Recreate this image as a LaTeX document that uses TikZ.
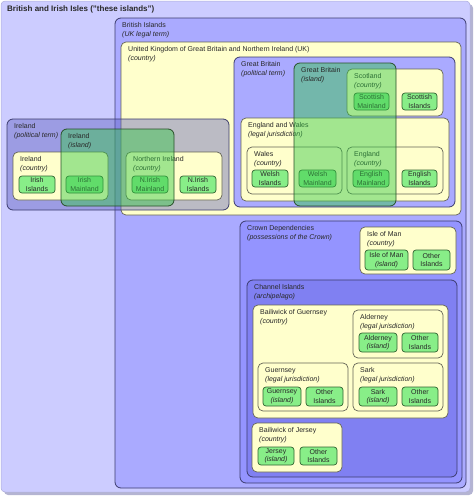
\documentclass[tikz,border=0pt]{standalone}
\usepackage{fontspec}
\setmainfont{Liberation Sans}
\definecolor{lavA}{RGB}{204,204,255}
\definecolor{lavB}{RGB}{170,170,255}
\definecolor{lavC}{RGB}{148,148,255}
\definecolor{lavD}{RGB}{128,128,242}
\definecolor{navy}{RGB}{60,60,110}
\definecolor{yel}{RGB}{255,255,204}
\definecolor{yelB}{RGB}{100,100,85}
\definecolor{grn}{RGB}{136,238,136}
\definecolor{grnB}{RGB}{50,100,50}
\definecolor{txt}{RGB}{40,40,40}
\definecolor{shad}{RGB}{180,180,210}
\definecolor{irl}{RGB}{85,85,185}
\definecolor{isl}{RGB}{50,200,70}
\tikzset{
  bigbox/.style={draw=navy,line width=0.8pt,rounded corners=6pt,inner sep=0pt,outer sep=0pt},
  lav/.style={bigbox,fill=lavB},
  crown/.style={bigbox,fill=lavC},
  chan/.style={bigbox,fill=lavD},
  ybox/.style={draw=yelB,line width=0.7pt,fill=yel,rounded corners=5pt,inner sep=0pt,outer sep=0pt},
  gbox/.style={draw=grnB,line width=0.7pt,fill=grn,rounded corners=3pt,inner sep=0pt,outer sep=0pt,
     align=center,text=txt,font=\fontsize{7}{8.6}\selectfont},
  polbox/.style={draw=navy,line width=0.8pt,fill=irl,fill opacity=0.4,rounded corners=6pt,inner sep=0pt,outer sep=0pt},
  islbox/.style={draw=grnB!80!black,line width=0.8pt,fill=isl,fill opacity=0.45,rounded corners=6pt,inner sep=0pt,outer sep=0pt},
  lbl/.style={anchor=north west,inner sep=0pt,align=left,text=txt,font=\fontsize{7}{9}\selectfont},
}
\newcommand{\rb}[6]{\node[#2,anchor=north west,minimum width={(#5-#3)*1pt},minimum height={(#6-#4)*1pt}] (#1) at (#3,#4) {};}
\newcommand{\gb}[6]{\node[gbox,anchor=center,minimum width={(#4-#2)*1pt},minimum height={(#5-#3)*1pt}] (#1) at ({(#2+#4)/2},{(#3+#5)/2}) {#6};}
\newcommand{\lb}[4]{\node[lbl] (#1) at ([xshift=7pt,yshift=-4pt]#2.north west) {#3\\\textit{#4}};}
\begin{document}
\begin{tikzpicture}[x=1pt,y=-1pt]
\useasboundingbox (0,0) rectangle (474,496);
% outer
\fill[shad,rounded corners=4pt] (4,4) rectangle (473,495);
\rb{outer}{bigbox,draw=lavA!85!black,line width=0.5pt,fill=lavA,rounded corners=4pt}{1}{1}{470}{492}
\node[anchor=west,inner sep=0pt,text=txt,font=\fontsize{8}{10}\selectfont\bfseries] (title) at (7,9) {British and Irish Isles ("these islands")};
% British Islands
\rb{bi}{lav}{115}{18}{466}{488}
\lb{bil}{bi}{British Islands}{(UK legal term)}
% UK
\rb{uk}{ybox}{121}{42}{461}{215}
\lb{ukl}{uk}{United Kingdom of Great Britain and Northern Ireland (UK)}{(country)}
% Ireland political
\rb{irp}{polbox}{7}{119}{229}{210}
\lb{irpl}{irp}{Ireland}{(political term)}
% Ireland country
\rb{irc}{ybox}{13}{152}{108}{200}
\lb{ircl}{irc}{Ireland}{(country)}
\gb{iri}{19}{176}{55}{193}{Irish\\Islands}
\gb{irm}{66}{176}{103}{193}{Irish\\Mainland}
% Northern Ireland
\rb{ni}{ybox}{126}{152}{222}{200}
\lb{nil}{ni}{Northern Ireland}{(country)}
\gb{nim}{132}{176}{168}{193}{N.Irish\\Mainland}
\gb{nii}{180}{176}{216}{193}{N.Irish\\Islands}
% Ireland island
\rb{iris}{islbox}{61}{129}{174}{206}
\lb{irisl}{iris}{Ireland}{(island)}
% Great Britain political
\rb{gbp}{lav}{234}{57}{455}{207}
\lb{gbpl}{gbp}{Great Britain}{(political term)}
% Scotland
\rb{sco}{ybox}{347}{69}{443}{116}
\lb{scol}{sco}{Scotland}{(country)}
\gb{scm}{354}{93}{389}{110}{Scottish\\Mainland}
\gb{sci}{402}{93}{437}{110}{Scottish\\Islands}
% England and Wales
\rb{ew}{ybox}{241}{118}{449}{201}
\lb{ewl}{ew}{England and Wales}{(legal jurisdiction)}
\rb{wal}{ybox}{247}{147}{342}{194}
\lb{wall}{wal}{Wales}{(country)}
\gb{wli}{252}{170}{288}{187}{Welsh\\Islands}
\gb{wlm}{299}{170}{336}{187}{Welsh\\Mainland}
\rb{eng}{ybox}{347}{147}{443}{194}
\lb{engl}{eng}{England}{(country)}
\gb{enm}{353}{170}{389}{187}{English\\Mainland}
\gb{eni}{402}{170}{437}{187}{English\\Islands}
% GB island
\rb{gbi}{islbox}{294}{63}{396}{206}
\lb{gbil}{gbi}{Great Britain}{(island)}
% Crown dependencies
\rb{cd}{crown}{240}{221}{462}{483}
\lb{cdl}{cd}{Crown Dependencies}{(possessions of the Crown)}
\rb{iom}{ybox}{360}{227}{456}{274}
\lb{ioml}{iom}{Isle of Man}{(country)}
\gb{iomi}{365}{250}{408}{270}{Isle of Man\\\textit{(island)}}
\gb{iomo}{413}{250}{450}{270}{Other\\Islands}
% Channel Islands
\rb{ci}{chan}{247}{280}{457}{477}
\lb{cil}{ci}{Channel Islands}{(archipelago)}
\rb{bg}{ybox}{253}{305}{448}{418}
\lb{bgl}{bg}{Bailiwick of Guernsey}{(country)}
\rb{ald}{ybox}{353}{310}{443}{358}
\lb{aldl}{ald}{Alderney}{(legal jurisdiction)}
\gb{aldi}{359}{333}{397}{352}{Alderney\\\textit{(island)}}
\gb{aldo}{402}{333}{438}{352}{Other\\Islands}
\rb{gue}{ybox}{258}{363}{348}{411}
\lb{guel}{gue}{Guernsey}{(legal jurisdiction)}
\gb{guei}{263}{387}{301}{406}{Guernsey\\\textit{(island)}}
\gb{gueo}{306}{387}{343}{406}{Other\\Islands}
\rb{sark}{ybox}{353}{363}{443}{411}
\lb{sarkl}{sark}{Sark}{(legal jurisdiction)}
\gb{sarki}{359}{387}{397}{406}{Sark\\\textit{(island)}}
\gb{sarko}{402}{387}{438}{406}{Other\\Islands}
\rb{bj}{ybox}{252}{423}{342}{472}
\lb{bjl}{bj}{Bailiwick of Jersey}{(country)}
\gb{jeri}{258}{447}{294}{465}{Jersey\\\textit{(island)}}
\gb{jero}{300}{447}{337}{465}{Other\\Islands}
\end{tikzpicture}
\end{document}
